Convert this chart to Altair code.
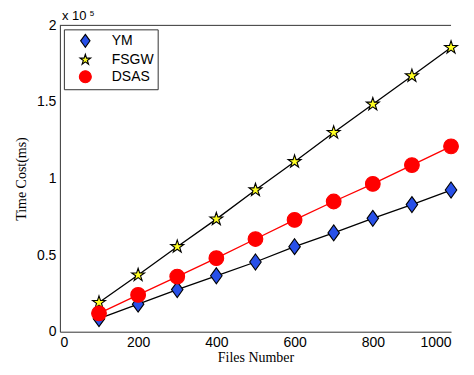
import altair as alt
import pandas as pd

files = [100, 200, 300, 400, 500, 600, 700, 800, 900, 1000]
ym = [8500, 18000, 27500, 36500, 45500, 55500, 64500, 74000, 83000, 92500]
fsgw = [19000, 37000, 55500, 73500, 92500, 111000, 130000, 148500, 167000, 185500]
dsas = [12000, 24000, 36000, 48000, 60500, 73000, 85000, 96500, 108800, 121000]

series = ["YM", "FSGW", "DSAS"]
rows = []
for name, vals in zip(series, [ym, fsgw, dsas]):
    for f, v in zip(files, vals):
        rows.append({"files": f, "time": v, "series": name})
df = pd.DataFrame(rows)
one = pd.DataFrame({"k": [0]})

W, H = 392, 307
star = ("M0,-0.85L0.191,-0.263L0.808,-0.263L0.309,0.1L0.5,0.688L0,0.325L-0.5,0.688"
        "L-0.309,0.1L-0.808,-0.263L-0.191,-0.263Z")
diamond = "M0,-1L0.72,0L0,1L-0.72,0Z"
circle = "M-0.92,0A0.92,0.92,0,1,1,0.92,0A0.92,0.92,0,1,1,-0.92,0Z"

x = alt.X("files:Q", scale=alt.Scale(domain=[0, 1000], nice=False),
          axis=alt.Axis(values=[0, 200, 400, 600, 800, 1000], format="d", title="Files Number",
                        titleFont="Liberation Serif", titleFontSize=14, titleFontWeight="normal",
                        titlePadding=1, labelPadding=4))
y = alt.Y("time:Q", scale=alt.Scale(domain=[0, 200000], nice=False),
          axis=alt.Axis(values=[0, 50000, 100000, 150000, 200000], title="Time Cost(ms)",
                        labelExpr="datum.value / 100000", titleFont="Liberation Serif",
                        titleFontSize=14, titleFontWeight="normal", titlePadding=8,
                        labelPadding=4))

stroke = alt.Stroke("series:N", sort=series,
                    scale=alt.Scale(domain=series, range=["#000000", "#000000", "#ff0000"]),
                    legend=alt.Legend(title=None))

lines = alt.Chart(df).mark_line(strokeWidth=1.3).encode(
    x=x, y=y, stroke=stroke, detail="series:N")

points = alt.Chart(df).mark_point(filled=False, opacity=1, strokeWidth=1.1, size=256).encode(
    x=x, y=y, stroke=stroke,
    fill=alt.Fill("series:N", sort=series,
                  scale=alt.Scale(domain=series, range=["#2850e8", "#ffff22", "#ff0000"]),
                  legend=alt.Legend(title=None)),
    shape=alt.Shape("series:N", sort=series,
                    scale=alt.Scale(domain=series, range=[diamond, star, circle]),
                    legend=alt.Legend(title=None)),
)

top_line = alt.Chart(one).mark_rule(color="#333333", strokeWidth=1).encode(
    x=alt.value(0), x2=alt.value(W), y=alt.value(0))

exp_text = alt.Chart(one).mark_text(align="left", baseline="alphabetic", font="Liberation Sans",
                                    fontSize=13, color="#000000").encode(
    x=alt.value(2), y=alt.value(-5), text=alt.value("x 10"))
exp_sup = alt.Chart(one).mark_text(align="left", baseline="alphabetic", font="Liberation Sans",
                                   fontSize=8, color="#000000").encode(
    x=alt.value(30), y=alt.value(-9), text=alt.value("5"))

chart = alt.layer(top_line, lines, points, exp_text, exp_sup).properties(
    width=W, height=H,
    autosize=alt.AutoSizeParams(type="none"),
    padding={"left": 52, "top": 17, "right": 15, "bottom": 45},
).configure_view(stroke=None).configure_axis(
    labelFont="Liberation Sans", labelFontSize=14, labelColor="#000000",
    domainColor="#333333", domainWidth=1, ticks=False, grid=False,
    titleColor="#000000",
).configure_legend(
    orient="none", legendX=4, legendY=4, fillColor="#ffffff", strokeColor="#333333",
    padding=4, labelFont="Liberation Sans", labelFontSize=14, labelColor="#000000",
    symbolStrokeWidth=1.1, rowPadding=1, labelOffset=19, symbolOffset=10, symbolSize=170,
)

chart.save("out.html", embed_options={"renderer": "svg", "actions": False})
